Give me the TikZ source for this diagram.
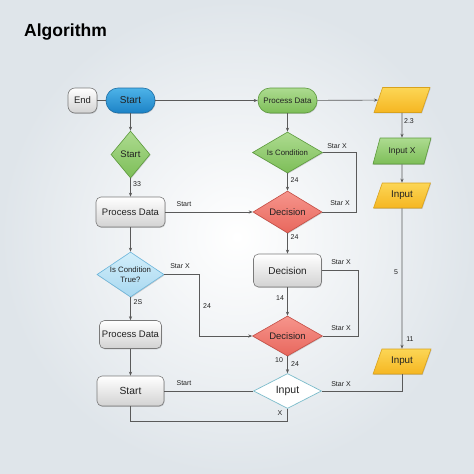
\documentclass[tikz,border=0pt]{standalone}
\usepackage{fontspec}
\setmainfont{Liberation Sans}
\usetikzlibrary{shapes.geometric,arrows.meta,shadows}
\definecolor{bgout}{HTML}{DFE5EA}
\definecolor{lncol}{HTML}{5A5A5A}
\definecolor{txt}{HTML}{222222}
\definecolor{grayline}{HTML}{7A7A7A}
\definecolor{graybot}{HTML}{D2D2D2}
\definecolor{bluetop}{HTML}{4DB3E8}
\definecolor{bluebot}{HTML}{1C82C6}
\definecolor{blueline}{HTML}{1B6DA5}
\definecolor{greentop}{HTML}{ADDB90}
\definecolor{greenbot}{HTML}{7DBE58}
\definecolor{greenline}{HTML}{5C9A3C}
\definecolor{redtop}{HTML}{F6958C}
\definecolor{redbot}{HTML}{E8675D}
\definecolor{redline}{HTML}{C44D44}
\definecolor{yeltop}{HTML}{FCD655}
\definecolor{yelbot}{HTML}{F5B622}
\definecolor{yelline}{HTML}{D9A21C}
\definecolor{ltbluetop}{HTML}{D2EEFA}
\definecolor{ltbluebot}{HTML}{A8D8F0}
\definecolor{ltblueline}{HTML}{6AB4DA}
\definecolor{tealline}{HTML}{7BBCCB}
\begin{document}
\begin{tikzpicture}[x=1pt,y=-1pt,
  shad/.style={drop shadow={shadow xshift=0.6pt,shadow yshift=-0.9pt,opacity=0.16,fill=black}},
  base/.style={draw, text=txt, inner sep=0pt, line width=0.6pt, shad, font=\fontsize{9.5}{11}\selectfont},
  grayb/.style={base, rectangle, rounded corners=5pt, top color=white, bottom color=graybot, draw=grayline},
  bluepill/.style={base, rectangle, rounded corners=12pt, top color=bluetop, bottom color=bluebot, draw=blueline, font=\fontsize{10}{12}\selectfont},
  greenpill/.style={base, rectangle, rounded corners=12pt, top color=greentop, bottom color=greenbot, draw=greenline, font=\fontsize{8}{10}\selectfont},
  greendia/.style={base, diamond, top color=greentop, bottom color=greenbot, draw=greenline},
  reddia/.style={base, diamond, shape aspect=1.7, top color=redtop, bottom color=redbot, draw=redline, font=\fontsize{9.5}{11}\selectfont},
  bluedia/.style={base, diamond, shape aspect=1.5, top color=ltbluetop, bottom color=ltbluebot, draw=ltblueline, font=\fontsize{7.8}{9.5}\selectfont, align=center},
  inputdia/.style={draw, text=txt, inner sep=0pt, line width=0.7pt, diamond, shape aspect=1.9, fill=white, draw=tealline, font=\fontsize{10.5}{12}\selectfont},
  par/.style={base, inner sep=1pt, trapezium, trapezium stretches=true, trapezium left angle=64, trapezium right angle=116, font=\fontsize{9.8}{11}\selectfont},
  yelpar/.style={par, top color=yeltop, bottom color=yelbot, draw=yelline},
  greenpar/.style={par, top color=greentop, bottom color=greenbot, draw=greenline, font=\fontsize{8.5}{10}\selectfont},
  lbl/.style={text=txt, inner sep=0pt, font=\fontsize{7}{8}\selectfont},
  ln/.style={draw=lncol, line width=0.65pt},
  arr/.style={ln, -{Stealth[length=4pt,width=3.2pt]}}
]
\fill[inner color=white, outer color=bgout] (0,0) rectangle (474,474);
\useasboundingbox (0,0) rectangle (474,474);

\node[text=black, anchor=west, inner sep=0pt, font=\fontsize{17.5}{20}\selectfont\bfseries] (title) at (24,32) {Algorithm};

% left column
\node[grayb, minimum width=29pt, minimum height=25pt, rounded corners=7pt] (end) at (82.5,100.5) {End};
\node[bluepill, minimum width=49pt, minimum height=25pt] (start) at (130.5,100.5) {Start};
\node[greendia, minimum width=39pt, minimum height=47pt, shape aspect=0.83] (gstart) at (130.5,154.5) {Start};
\node[grayb, minimum width=69pt, minimum height=30pt] (proc1) at (130.5,212) {Process Data};
\node[bluedia, minimum width=67pt, minimum height=45pt] (cond) at (130.5,274.5) {Is Condition\\True?};
\node[grayb, minimum width=62pt, minimum height=28pt] (proc2) at (130.5,334.5) {Process Data};
\node[grayb, minimum width=67pt, minimum height=30pt, font=\fontsize{10.3}{12}\selectfont] (start2) at (130.5,391) {Start};

% middle column
\node[greenpill, minimum width=59pt, minimum height=25pt] (pd) at (287.5,100.5) {Process Data};
\node[greendia, minimum width=70pt, minimum height=41pt, shape aspect=1.7, font=\fontsize{7.8}{9}\selectfont] (ic) at (287.5,152.5) {Is Condition};
\node[reddia, minimum width=69pt, minimum height=42pt] (dec1) at (287.5,212) {Decision};
\node[grayb, minimum width=68pt, minimum height=33pt, font=\fontsize{10}{12}\selectfont] (decb) at (287.5,270.5) {Decision};
\node[reddia, minimum width=70pt, minimum height=40pt] (dec2) at (287.5,336) {Decision};
\node[inputdia, minimum width=68pt, minimum height=35pt] (inp) at (287.5,391) {Input};

% right column
\node[yelpar, minimum width=56pt, minimum height=25pt] (y1) at (402,100) {\phantom{Input}};
\node[greenpar, minimum width=58pt, minimum height=26pt] (inx) at (402,151) {Input X};
\node[yelpar, minimum width=57pt, minimum height=25pt] (y2) at (402,195.5) {Input};
\node[yelpar, minimum width=58pt, minimum height=25pt] (y3) at (402,361.5) {Input};

% helper coordinates
\coordinate (r1) at (356,152.5);
\coordinate (r2) at (358,270.5);
\coordinate (r3) at (199,274.5);
\coordinate (lb) at (130.5,421);

% connectors
\draw[ln] (end) -- (start);
\draw[arr] (start) -- (pd);
\draw[arr] (pd) -- (y1);
\draw[arr] (start) -- (gstart);
\draw[arr] (gstart) -- (proc1);
\draw[arr] (proc1) -- (dec1);
\draw[arr] (proc1) -- (cond);
\draw[arr] (cond) -- (proc2);
\draw[arr] (proc2) -- (start2);
\draw[ln] (start2) -- (inp);
\draw[ln] (start2) -- (lb) -| (inp.south);
\draw[arr] (pd) -- (ic);
\draw[arr] (ic) -- (dec1);
\draw[ln] (ic.east) -- (r1) |- (dec1.east);
\draw[arr] (dec1) -- (decb);
\draw[arr] (decb) -- (dec2);
\draw[ln] (decb.east) -- (r2) |- (dec2.east);
\draw[arr] (dec2) -- (inp);
\draw[arr] (cond.east) -- (r3) |- (dec2.west);
\draw[arr] (y1) -- (inx);
\draw[arr] (inx) -- (y2);
\draw[arr] (y2) -- (y3);
\draw[ln] (inp.east) -| (y3.south);

% labels
\node[lbl] (l1) at (137,184) {33};
\node[lbl] (l2) at (184,204) {Start};
\node[lbl] (l3) at (337,146) {Star X};
\node[lbl] (l4) at (294.5,180) {24};
\node[lbl] (l5) at (340,203) {Star X};
\node[lbl] (l6) at (294.5,237.5) {24};
\node[lbl] (l7) at (341,262) {Star X};
\node[lbl] (l8) at (280,298) {14};
\node[lbl] (l9) at (341,328) {Star X};
\node[lbl] (l10) at (279,360) {10};
\node[lbl] (l11) at (295,364) {24};
\node[lbl] (l12) at (341,384) {Star X};
\node[lbl] (l13) at (280,413) {X};
\node[lbl] (l14) at (184,383.5) {Start};
\node[lbl] (l15) at (180,266.5) {Star X};
\node[lbl] (l16) at (207,306) {24};
\node[lbl] (l17) at (138,302) {2S};
\node[lbl] (l18) at (409,121) {2.3};
\node[lbl] (l19) at (396,272) {5};
\node[lbl] (l20) at (410,339) {11};
\end{tikzpicture}
\end{document}
